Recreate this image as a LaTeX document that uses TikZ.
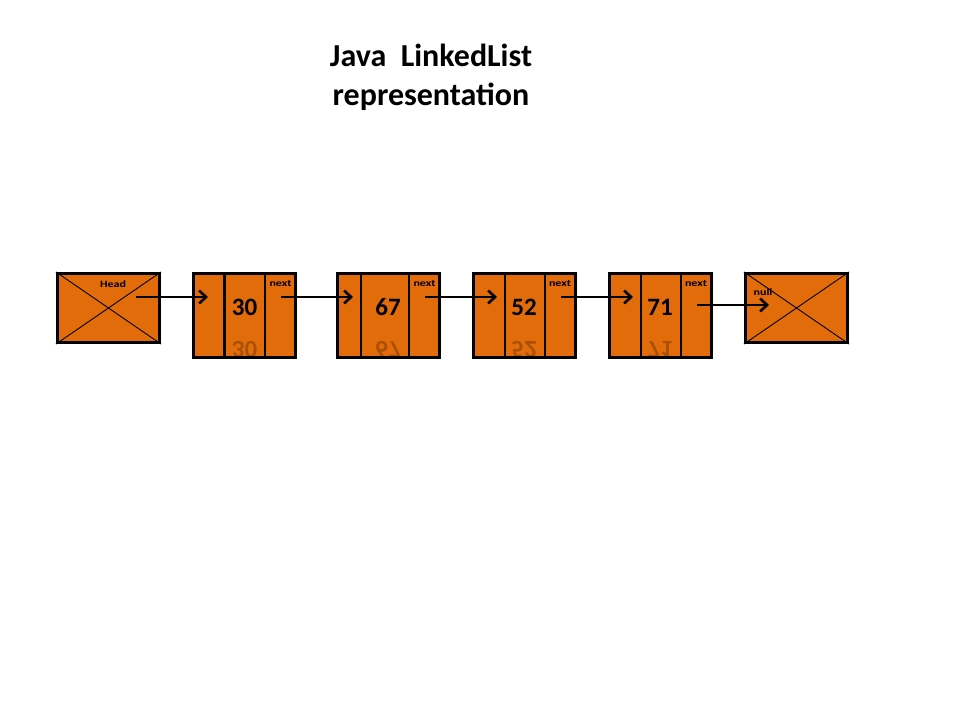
\documentclass[tikz,border=0pt]{standalone}
\usepackage{fontspec}
\setmainfont{Carlito}
\usetikzlibrary{arrows.meta}
\definecolor{nodeorange}{RGB}{227,108,10}
\tikzset{
  endbox/.style={draw=black, fill=nodeorange, line width=3.2pt, minimum width=102pt, minimum height=69pt, inner sep=0pt},
  databox/.style={draw=black, fill=nodeorange, line width=3.2pt, minimum width=102pt, minimum height=84pt, inner sep=0pt},
  divider/.style={line width=2.6pt},
  crossline/.style={line width=0.9pt},
  link/.style={line width=2.6pt, -{Straight Barb[length=7pt,width=13pt,line width=2.6pt]}},
  tinylabel/.style={font=\fontsize{12}{12}\selectfont\bfseries, inner sep=0pt, yscale=0.8},
  valuelabel/.style={font=\fontsize{25}{25}\selectfont\bfseries, inner sep=0pt},
  mirror/.style={font=\fontsize{25}{25}\selectfont\bfseries, inner sep=0pt, text opacity=0.25},
  titlelabel/.style={font=\fontsize{32}{39}\selectfont\bfseries, align=center, inner sep=0pt}
}
\begin{document}
\begin{tikzpicture}[x=1pt,y=-1pt]
\useasboundingbox (0,0) rectangle (960,720);
\fill[white] (0,0) rectangle (960,720);

\node[titlelabel] (title) at (431,77) {Java\ \ LinkedList\\representation};

% head box
\node[endbox] (head) at (108.5,308) {};
\draw[crossline] (head.north west) -- (head.south east);
\draw[crossline] (head.south west) -- (head.north east);
\node[tinylabel] (headlbl) at (113,284) {Head};

% null box
\node[endbox] (nullbox) at (796.5,308) {};
\draw[crossline] (nullbox.north west) -- (nullbox.south east);
\draw[crossline] (nullbox.south west) -- (nullbox.north east);
\node[tinylabel] (nulllbl) at (763,292) {null};

% data nodes
\node[databox] (n1) at (244.5,315.5) {};
\node[databox] (n2) at (388.5,315.5) {};
\node[databox] (n3) at (524.5,315.5) {};
\node[databox] (n4) at (660.5,315.5) {};

\draw[divider] (224.5,272) -- (224.5,359);
\draw[divider] (265,272) -- (265,359);
\draw[divider] (361,272) -- (361,359);
\draw[divider] (409,272) -- (409,359);
\draw[divider] (505,272) -- (505,359);
\draw[divider] (545,272) -- (545,359);
\draw[divider] (641,272) -- (641,359);
\draw[divider] (681,272) -- (681,359);

\node[valuelabel] (v1) at (244.5,307) {30};
\node[valuelabel] (v2) at (388,307) {67};
\node[valuelabel] (v3) at (524,307) {52};
\node[valuelabel] (v4) at (660,307) {71};

\begin{scope}
\clip (192,272) rectangle (713,357.5);
\node[mirror] (r1) at (244.5,350) {\scalebox{1}[-1]{30}};
\node[mirror] (r2) at (388,350) {\scalebox{1}[-1]{67}};
\node[mirror] (r3) at (524,350) {\scalebox{1}[-1]{52}};
\node[mirror] (r4) at (660,350) {\scalebox{1}[-1]{71}};
\end{scope}

\node[tinylabel] (x1) at (280.5,284) {next};
\node[tinylabel] (x2) at (424.5,284) {next};
\node[tinylabel] (x3) at (560,284) {next};
\node[tinylabel] (x4) at (696,284) {next};

% links
\coordinate (hout) at (136,297);
\coordinate (in1) at (208,297);
\coordinate (out1) at (281,297);
\coordinate (in2) at (353,297);
\coordinate (out2) at (425,297);
\coordinate (in3) at (497,297);
\coordinate (out3) at (561,297);
\coordinate (in4) at (633,297);
\coordinate (out4) at (697,305);
\coordinate (innull) at (769,305);
\draw[link] (hout) -- (in1);
\draw[link] (out1) -- (in2);
\draw[link] (out2) -- (in3);
\draw[link] (out3) -- (in4);
\draw[link] (out4) -- (innull);
\end{tikzpicture}
\end{document}
